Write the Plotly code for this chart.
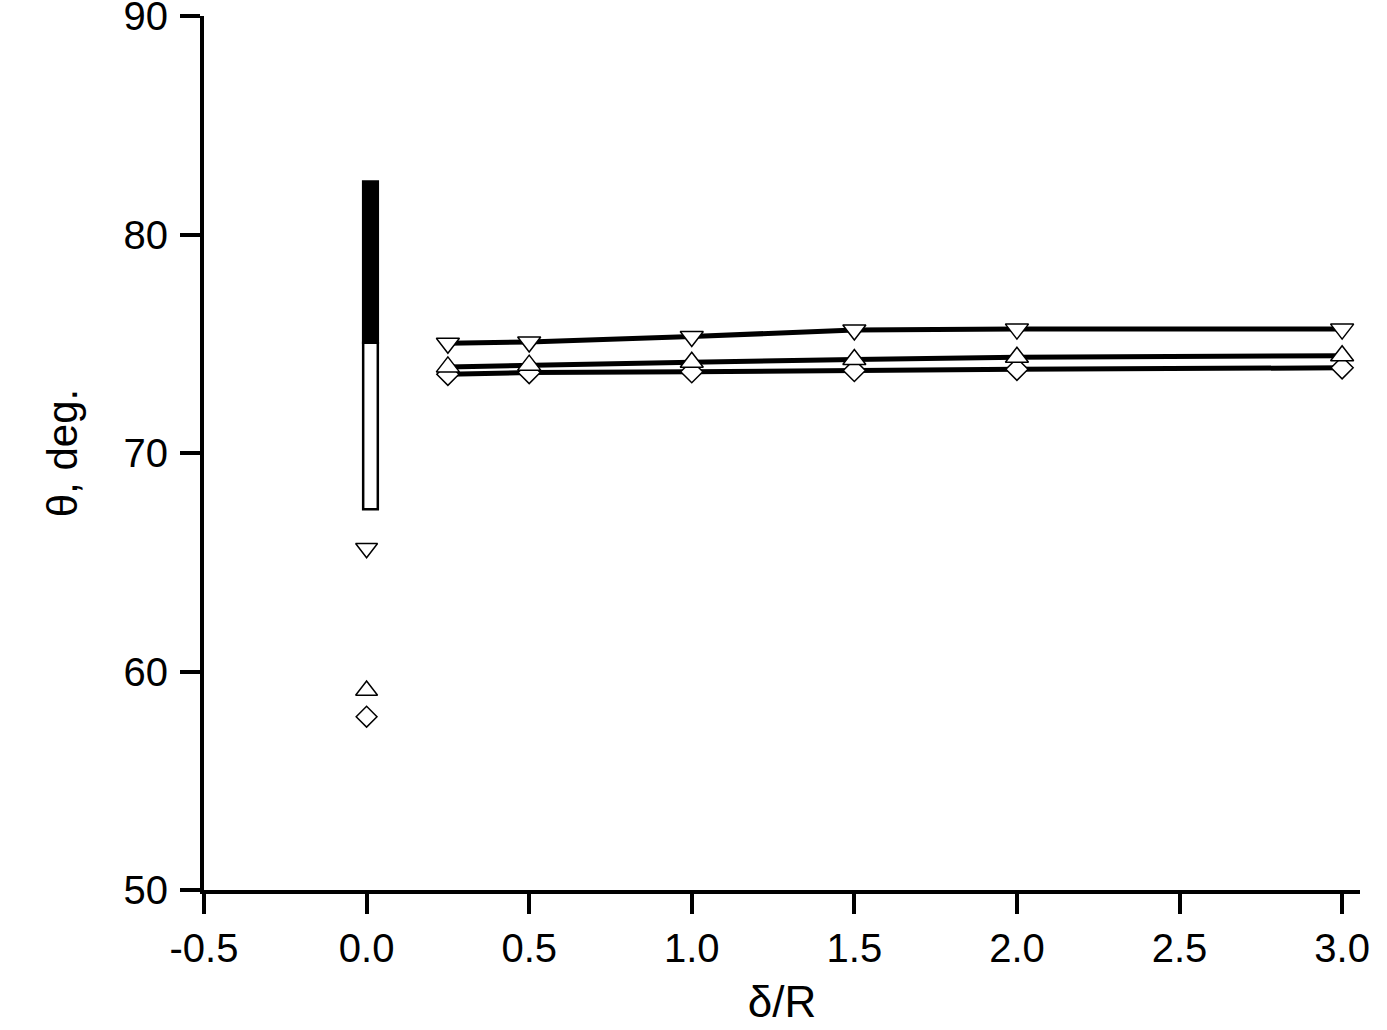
import plotly.graph_objects as go

# ---- data ----
delta_R = [0.25, 0.5, 1.0, 1.5, 2.0, 3.0]
theta_down = [75.02, 75.08, 75.33, 75.63, 75.67, 75.67]
theta_up = [73.94, 74.02, 74.15, 74.28, 74.38, 74.45]
theta_diamond = [73.60, 73.68, 73.72, 73.78, 73.83, 73.90]

single_x = [0.0]
single_down = [65.64]
single_up = [59.13]
single_diamond = [57.93]

bar_x = [0.012]
bar_low = [67.42]
bar_mid = [75.05]
bar_high = [82.42]

x_ticks = [-0.5, 0.0, 0.5, 1.0, 1.5, 2.0, 2.5, 3.0]
x_tick_text = ["-0.5", "0.0", "0.5", "1.0", "1.5", "2.0", "2.5", "3.0"]
y_ticks = [50, 60, 70, 80, 90]
y_tick_text = ["50", "60", "70", "80", "90"]

FONT = "Liberation Sans, Arial, sans-serif"

fig = go.Figure()

# range bar (white lower part, black upper part)
fig.add_trace(go.Bar(
    x=bar_x, y=[bar_mid[0] - bar_low[0]], base=bar_low, width=0.045,
    marker=dict(color="white", line=dict(color="black", width=2.5)),
    showlegend=False, hoverinfo="skip"))
fig.add_trace(go.Bar(
    x=bar_x, y=[bar_high[0] - bar_mid[0]], base=bar_mid, width=0.045,
    marker=dict(color="black", line=dict(color="black", width=2.5)),
    showlegend=False, hoverinfo="skip"))

marker_line = dict(color="black", width=1.5)

for ys, sym, sz in [(theta_diamond, "diamond", 17),
                    (theta_up, "triangle-up", 20),
                    (theta_down, "triangle-down", 20)]:
    fig.add_trace(go.Scatter(
        x=delta_R, y=ys, mode="lines+markers",
        line=dict(color="black", width=5),
        marker=dict(symbol=sym, size=sz, color="white", line=marker_line),
        showlegend=False))

for ys, sym, sz in [(single_down, "triangle-down", 19),
                    (single_up, "triangle-up", 19),
                    (single_diamond, "diamond", 16)]:
    fig.add_trace(go.Scatter(
        x=single_x, y=ys, mode="markers",
        marker=dict(symbol=sym, size=sz, color="white", line=marker_line),
        showlegend=False))

fig.update_layout(
    width=1387, height=1030,
    margin=dict(l=204, r=27, t=16, b=140, autoexpand=False),
    paper_bgcolor="white", plot_bgcolor="white",
    barmode="overlay",
    font=dict(family=FONT, color="black"),
    xaxis=dict(
        range=[-0.5, 3.055], tickvals=x_ticks, ticktext=x_tick_text,
        showline=True, linewidth=4, linecolor="black",
        ticks="outside", ticklen=20, tickwidth=3.5, tickcolor="black",
        showgrid=False, zeroline=False, automargin=False,
        tickfont=dict(size=40, family=FONT),
        ticklabeloverflow="allow",
        title=dict(text="δ/R", font=dict(size=44, family=FONT), standoff=18),
    ),
    yaxis=dict(
        range=[50, 90], tickvals=y_ticks, ticktext=y_tick_text,
        showline=True, linewidth=4, linecolor="black",
        ticks="outside", ticklen=20, tickwidth=3.5, tickcolor="black",
        showgrid=False, zeroline=False, automargin=False,
        tickfont=dict(size=40, family=FONT),
        ticklabelstandoff=4,
        ticklabeloverflow="allow",
        title=dict(text="θ, deg.", font=dict(size=42, family=FONT), standoff=34),
    ),
)

fig.write_html("out.html")
